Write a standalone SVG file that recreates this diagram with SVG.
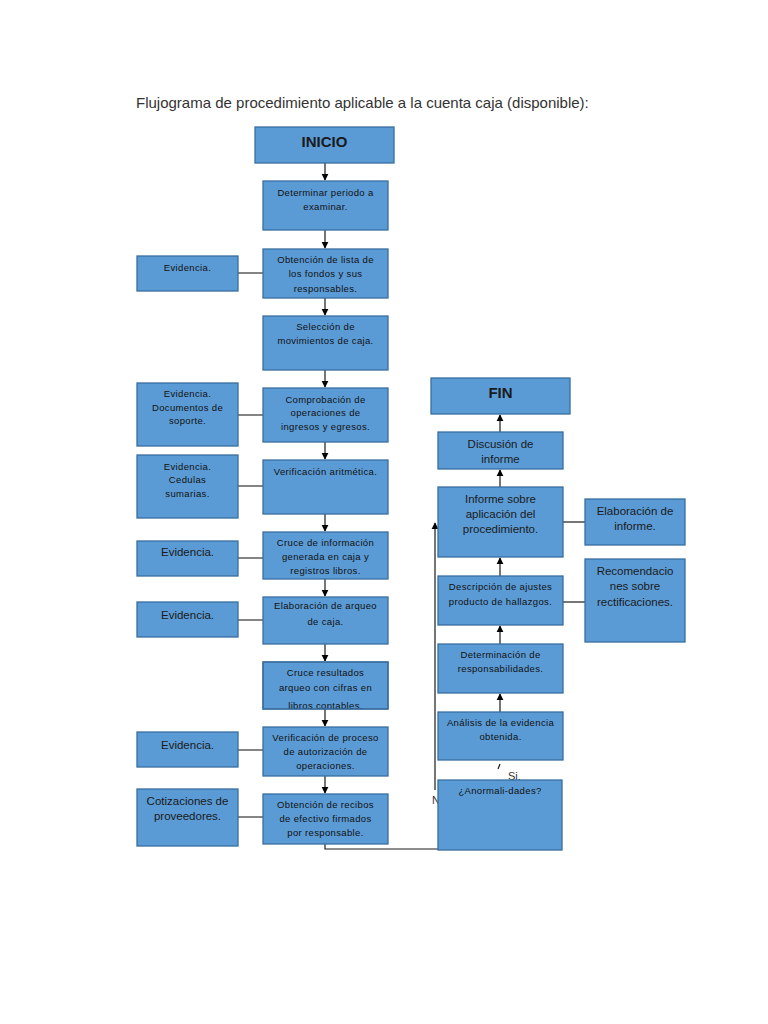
<svg xmlns="http://www.w3.org/2000/svg" width="768" height="1024" viewBox="0 0 768 1024">
<style>
.b{fill:#5B9BD5;stroke:#3A6E9F;stroke-width:1.3}
.t{font-family:"Liberation Sans",Arial,sans-serif;font-size:9.5px;fill:#111;text-anchor:middle;letter-spacing:0.35px}
.m{font-family:"Liberation Sans",Arial,sans-serif;font-size:11.5px;fill:#1a1a1a;text-anchor:middle}
.h{font-family:"Liberation Sans",Arial,sans-serif;font-size:15px;font-weight:bold;fill:#1a1a1a;text-anchor:middle}
.c{stroke:#1a1a1a;stroke-width:1.2;fill:none}
.g{stroke:#333;stroke-width:1.2;fill:none}
</style>
<defs>
<marker id="a" viewBox="0 0 10 10" refX="9" refY="5" markerWidth="6" markerHeight="6" orient="auto"><path d="M0,0L10,5L0,10z" fill="#000"/></marker>
<clipPath id="cl"><rect x="263" y="662" width="125" height="47"/></clipPath>
</defs>
<rect width="768" height="1024" fill="#fff"/>
<text x="136" y="108" font-family="Liberation Sans,Arial,sans-serif" font-size="15" fill="#333">Flujograma de procedimiento aplicable a la cuenta caja (disponible):</text>

<g id="connectors">
<path class="c" d="M325,163V180" marker-end="url(#a)"/>
<path class="c" d="M325,230V248" marker-end="url(#a)"/>
<path class="c" d="M325,298V315" marker-end="url(#a)"/>
<path class="c" d="M325,370V387" marker-end="url(#a)"/>
<path class="c" d="M325,442V459" marker-end="url(#a)"/>
<path class="c" d="M325,514V531" marker-end="url(#a)"/>
<path class="c" d="M325,579V596" marker-end="url(#a)"/>
<path class="c" d="M325,644V661" marker-end="url(#a)"/>
<path class="c" d="M325,709V726" marker-end="url(#a)"/>
<path class="c" d="M325,776V793" marker-end="url(#a)"/>
<path class="g" d="M238,273H263"/>
<path class="g" d="M238,415H263"/>
<path class="g" d="M238,486H263"/>
<path class="g" d="M238,558H263"/>
<path class="g" d="M238,620H263"/>
<path class="g" d="M238,750H263"/>
<path class="g" d="M238,817H263"/>
<path class="c" d="M325,844V849H438"/>
<path class="c" d="M435,790V523" marker-end="url(#a)"/>
<path class="c" d="M500,432V415" marker-end="url(#a)"/>
<path class="c" d="M500,487V470" marker-end="url(#a)"/>
<path class="c" d="M500,576V558" marker-end="url(#a)"/>
<path class="c" d="M500,644V626" marker-end="url(#a)"/>
<path class="c" d="M500,712V694" marker-end="url(#a)"/>
<path class="c" d="M498,769L500,764"/>
<path class="c" d="M563,522H585"/>
<path class="c" d="M563,602H585"/>
<text x="508" y="780" font-family="Liberation Sans,Arial,sans-serif" font-size="11" fill="#333">Si.</text>
<text x="432" y="804" font-family="Liberation Sans,Arial,sans-serif" font-size="11" fill="#333">N</text>
</g>

<g id="inicio"><rect class="b" x="255" y="127" width="139" height="36"/><text class="h" x="324.5" y="147">INICIO</text></g>
<g id="n1"><rect class="b" x="263" y="181" width="125" height="49"/><text class="t" x="325.5" y="196">Determinar periodo a</text><text class="t" x="325.5" y="210">examinar.</text></g>
<g id="n2"><rect class="b" x="263" y="249" width="125" height="49"/><text class="t" x="325.5" y="263">Obtención de lista de</text><text class="t" x="325.5" y="277">los fondos y sus</text><text class="t" x="325.5" y="292">responsables.</text></g>
<g id="n3"><rect class="b" x="263" y="316" width="125" height="54"/><text class="t" x="325.5" y="330">Selección de</text><text class="t" x="325.5" y="344">movimientos de caja.</text></g>
<g id="n4"><rect class="b" x="263" y="388" width="125" height="54"/><text class="t" x="325.5" y="403">Comprobación de</text><text class="t" x="325.5" y="416">operaciones de</text><text class="t" x="325.5" y="430">ingresos y egresos.</text></g>
<g id="n5"><rect class="b" x="263" y="460" width="125" height="54"/><text class="t" x="325.5" y="475">Verificación aritmética.</text></g>
<g id="n6"><rect class="b" x="263" y="532" width="125" height="47"/><text class="t" x="325.5" y="546">Cruce de información</text><text class="t" x="325.5" y="560">generada en caja y</text><text class="t" x="325.5" y="574">registros libros.</text></g>
<g id="n7"><rect class="b" x="263" y="597" width="125" height="47"/><text class="t" x="325.5" y="609">Elaboración de arqueo</text><text class="t" x="325.5" y="625">de caja.</text></g>
<g id="n8"><rect class="b" x="263" y="662" width="125" height="47"/><g clip-path="url(#cl)"><text class="t" x="325.5" y="676">Cruce resultados</text><text class="t" x="325.5" y="691">arqueo con cifras en</text><text class="t" x="325.5" y="709">libros contables.</text></g><rect x="263" y="662" width="125" height="47" fill="none" stroke="#3A6E9F" stroke-width="1.3"/></g>
<g id="n9"><rect class="b" x="263" y="727" width="125" height="49"/><text class="t" x="325.5" y="741">Verificación de proceso</text><text class="t" x="325.5" y="755">de autorización de</text><text class="t" x="325.5" y="769">operaciones.</text></g>
<g id="n10"><rect class="b" x="263" y="794" width="125" height="50"/><text class="t" x="325.5" y="808">Obtención de recibos</text><text class="t" x="325.5" y="822">de efectivo firmados</text><text class="t" x="325.5" y="836">por responsable.</text></g>

<g id="e1"><rect class="b" x="137" y="256" width="101" height="35"/><text class="t" x="187.5" y="271">Evidencia.</text></g>
<g id="e2"><rect class="b" x="137" y="383" width="101" height="63"/><text class="t" x="187.5" y="397">Evidencia.</text><text class="t" x="187.5" y="411">Documentos de</text><text class="t" x="187.5" y="424">soporte.</text></g>
<g id="e3"><rect class="b" x="137" y="455" width="101" height="63"/><text class="t" x="187.5" y="470">Evidencia.</text><text class="t" x="187.5" y="483">Cedulas</text><text class="t" x="187.5" y="497">sumarias.</text></g>
<g id="e4"><rect class="b" x="137" y="541" width="101" height="35"/><text class="m" x="187.5" y="556">Evidencia.</text></g>
<g id="e5"><rect class="b" x="137" y="602" width="101" height="35"/><text class="m" x="187.5" y="619">Evidencia.</text></g>
<g id="e6"><rect class="b" x="137" y="732" width="101" height="35"/><text class="m" x="187.5" y="749">Evidencia.</text></g>
<g id="e7"><rect class="b" x="137" y="789" width="101" height="57"/><text class="m" x="187.5" y="805">Cotizaciones de</text><text class="m" x="187.5" y="820">proveedores.</text></g>

<g id="fin"><rect class="b" x="431" y="378" width="139" height="36"/><text class="h" x="500.5" y="398">FIN</text></g>
<g id="r1"><rect class="b" x="438" y="432" width="125" height="37"/><text class="m" x="500.5" y="448">Discusión de</text><text class="m" x="500.5" y="463">informe</text></g>
<g id="r2"><rect class="b" x="438" y="487" width="125" height="70"/><text class="m" x="500.5" y="503">Informe sobre</text><text class="m" x="500.5" y="518">aplicación del</text><text class="m" x="500.5" y="533">procedimiento.</text></g>
<g id="r3"><rect class="b" x="438" y="576" width="125" height="49"/><text class="t" x="500.5" y="590">Descripción de ajustes</text><text class="t" x="500.5" y="605">producto de hallazgos.</text></g>
<g id="r4"><rect class="b" x="438" y="644" width="125" height="49"/><text class="t" x="500.5" y="658">Determinación de</text><text class="t" x="500.5" y="672">responsabilidades.</text></g>
<g id="r5"><rect class="b" x="438" y="712" width="125" height="48"/><text class="t" x="500.5" y="726">Análisis de la evidencia</text><text class="t" x="500.5" y="740">obtenida.</text></g>
<g id="r6"><rect class="b" x="438" y="780" width="124" height="70"/><text class="t" x="500" y="794">¿Anormali-dades?</text></g>
<g id="s1"><rect class="b" x="585" y="499" width="100" height="46"/><text class="m" x="635" y="515">Elaboración de</text><text class="m" x="635" y="530">informe.</text></g>
<g id="s2"><rect class="b" x="585" y="559" width="100" height="83"/><text class="m" x="635" y="575">Recomendacio</text><text class="m" x="635" y="590">nes sobre</text><text class="m" x="635" y="606">rectificaciones.</text></g>
</svg>
